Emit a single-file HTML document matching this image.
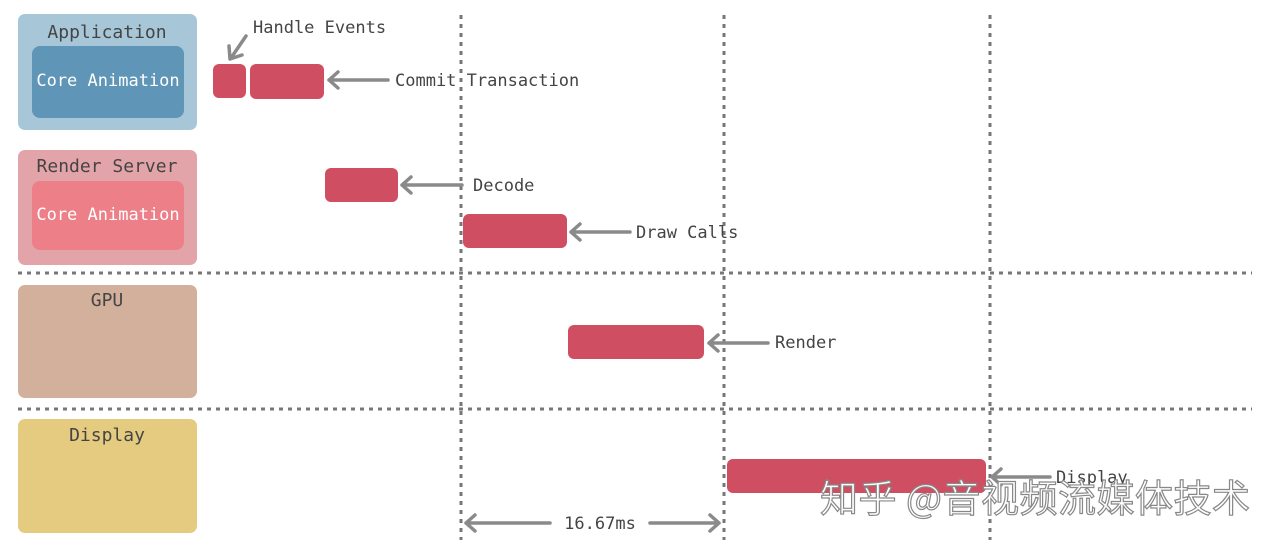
<!DOCTYPE html>
<html><head><meta charset="utf-8"><style>
html,body{margin:0;padding:0;background:#fff;width:1280px;height:550px;overflow:hidden}
text{font-family:"DejaVu Sans Mono","Liberation Mono",monospace}
</style></head><body>
<svg width="1280" height="550" xmlns="http://www.w3.org/2000/svg">
<g stroke="#777" stroke-width="3" stroke-dasharray="4,5">
<line x1="461" y1="15" x2="461" y2="540"/>
<line x1="724" y1="15" x2="724" y2="540"/>
<line x1="990" y1="15" x2="990" y2="540"/>
<line x1="18" y1="273" x2="1252" y2="273"/>
<line x1="18" y1="409" x2="1252" y2="409"/>
</g>
<rect x="18" y="14" width="179" height="116" rx="7" fill="#a7c7d9"/>
<rect x="32" y="46" width="152" height="72" rx="8" fill="#5f95b7"/>
<rect x="18" y="150" width="179" height="115" rx="7" fill="#e3a4a9"/>
<rect x="32" y="181" width="152" height="69" rx="8" fill="#ec7f87"/>
<rect x="18" y="285" width="179" height="113" rx="7" fill="#d3b09c"/>
<rect x="18" y="419" width="179" height="114" rx="7" fill="#e5cb80"/>
<g font-size="18" fill="#444" text-anchor="middle">
<text x="107" y="38">Application</text>
<text x="107" y="172">Render Server</text>
<text x="107" y="306">GPU</text>
<text x="107" y="441">Display</text>
</g>
<g font-size="17" fill="#fff" text-anchor="middle">
<text x="108" y="86">Core Animation</text>
<text x="108" y="220">Core Animation</text>
</g>
<g fill="#d04e61">
<rect x="213" y="64" width="33" height="34" rx="6"/>
<rect x="250" y="64" width="74" height="35" rx="6"/>
<rect x="325" y="168" width="73" height="34" rx="6"/>
<rect x="463" y="214" width="104" height="34" rx="6"/>
<rect x="568" y="325" width="136" height="34" rx="6"/>
<rect x="727" y="459" width="259" height="34" rx="6"/>
</g>
<g stroke="#8a8a8a" stroke-width="3.5" fill="none" stroke-linecap="round" stroke-linejoin="round">
<path d="M246,36 L231,58 M229,46 L230,59 L242,55"/>
<path d="M388,80 L329,80 M338,72 L329,80 L338,88"/>
<path d="M462,185 L402,185 M411,177 L402,185 L411,193"/>
<path d="M630,232 L571,232 M580,224 L571,232 L580,240"/>
<path d="M768,343 L709,343 M718,335 L709,343 L718,351"/>
<path d="M1050,477 L992,477 M1001,469 L992,477 L1001,485"/>
<path d="M550,523 L466,523 M475,515 L466,523 L475,531"/>
<path d="M650,523 L719,523 M710,515 L719,523 L710,531"/>
</g>
<g font-size="17" fill="#444">
<text x="253" y="33">Handle Events</text>
<text x="395" y="86">Commit Transaction</text>
<text x="473" y="191">Decode</text>
<text x="636" y="238">Draw Calls</text>
<text x="775" y="348">Render</text>
<text x="1056" y="483">Display</text>
<text x="600" y="529" text-anchor="middle">16.67ms</text>
</g>
<text x="820" y="512" font-size="38" fill="#fff" stroke="#888" stroke-width="1.2" textLength="430" style='font-family:"Noto Sans CJK SC",sans-serif'>知乎 @音视频流媒体技术</text>
</svg>
</body></html>
